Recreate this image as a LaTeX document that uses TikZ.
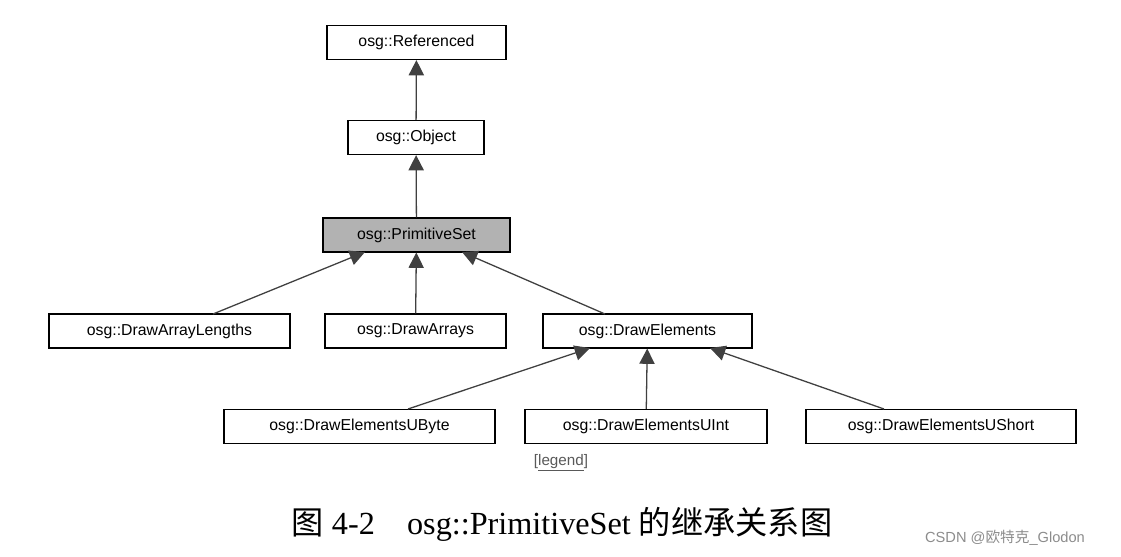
\documentclass[tikz,border=0pt]{standalone}
\usepackage{fontspec}
\setmainfont{Liberation Sans}
\newfontfamily\capfont{Liberation Serif}
\newfontfamily\cjk{Noto Sans CJK SC}
\usetikzlibrary{arrows.meta}
\begin{document}
\begin{tikzpicture}[x=0.03cm,y=-0.03cm,
  cls/.style={draw=black,line width=1pt,fill=white,minimum height=34*0.03cm,inner sep=0pt,font=\fontsize{13.5}{15}\selectfont},
  inh/.style={draw=black!75,line width=1.1pt,-{Triangle[length=13pt,width=13pt]}}]
\useasboundingbox (0,0) rectangle (1121,556);
\node[cls,minimum width=179*0.03cm] (ref) at (416.5,42.5) {osg::Referenced};
\node[cls,minimum width=136*0.03cm] (obj) at (416,137.5) {osg::Object};
\node[cls,minimum width=187*0.03cm,fill=black!30] (ps) at (416.5,235) {osg::PrimitiveSet};
\node[cls,minimum width=241*0.03cm] (dal) at (169.5,331) {osg::DrawArrayLengths};
\node[cls,minimum width=181*0.03cm] (da) at (415.5,331) {osg::DrawArrays};
\node[cls,minimum width=209*0.03cm] (de) at (647.5,331) {osg::DrawElements};
\node[cls,minimum width=271*0.03cm] (ub) at (359.5,426.5) {osg::DrawElementsUByte};
\node[cls,minimum width=242*0.03cm] (ui) at (646,426.5) {osg::DrawElementsUInt};
\node[cls,minimum width=270*0.03cm] (us) at (941,426.5) {osg::DrawElementsUShort};
\coordinate (psa) at (365,252);
\coordinate (psc) at (462,252);
\coordinate (dea) at (590,348);
\coordinate (dec) at (710,348);
\coordinate (dalt) at (213,314);
\coordinate (det) at (605,314);
\coordinate (ubt) at (408,409);
\coordinate (ust) at (884,409);
\draw[inh] (obj) -- (ref);
\draw[inh] (ps) -- (obj);
\draw[inh] (dalt) -- (psa);
\draw[inh] (da) -- (ps);
\draw[inh] (det) -- (psc);
\draw[inh] (ubt) -- (dea);
\draw[inh] (ui) -- (de);
\draw[inh] (ust) -- (dec);
\node[font=\fontsize{13}{15}\selectfont,text=black!65] (leg) at (561,463) {[\underline{legend}]};
\node[font=\fontsize{27.5}{31}\selectfont] (cap) at (562,524) {{\cjk 图}\capfont\ 4-2\quad osg::PrimitiveSet {\cjk 的继承关系图}};
\node[font=\fontsize{12.5}{14}\selectfont,text=black!45] (wm) at (1005,538) {CSDN @{\cjk 欧特克}\_Glodon};
\end{tikzpicture}
\end{document}
